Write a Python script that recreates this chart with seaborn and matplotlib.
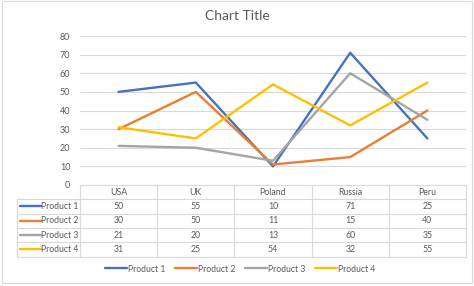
import matplotlib
matplotlib.use("Agg")
import matplotlib.pyplot as plt
from matplotlib.lines import Line2D
from matplotlib.patches import Rectangle
import seaborn as sns
import pandas as pd

countries = ["USA", "UK", "Poland", "Russia", "Peru"]
series_names = ["Product 1", "Product 2", "Product 3", "Product 4"]
product1 = [50, 55, 10, 71, 25]
product2 = [30, 50, 11, 15, 40]
product3 = [21, 20, 13, 60, 35]
product4 = [31, 25, 54, 32, 55]
y_ticks = [0, 10, 20, 30, 40, 50, 60, 70, 80]
title = "Chart Title"

colors = ["#4472C4", "#ED7D31", "#A5A5A5", "#FFC000"]
txt_col = "#595959"
grid_col = "#D9D9D9"

sns.set_theme(style="white")
plt.rcParams["font.family"] = ["Lato", "DejaVu Sans"]

values = [product1, product2, product3, product4]
rows = []
for name, vals in zip(series_names, values):
    for c, v in zip(countries, vals):
        rows.append({"Country": c, "Product": name, "Value": v})
df = pd.DataFrame(rows)

W, H = 474, 286
fig = plt.figure(figsize=(W / 100, H / 100), dpi=100)
fig.patch.set_facecolor("white")

def fx(px):
    return px / W

def fy(py):
    return 1 - py / H

ax = fig.add_axes([fx(80), fy(185), fx(466) - fx(80), fy(36) - fy(185)])
sns.lineplot(data=df, x="Country", y="Value", hue="Product", palette=colors,
             linewidth=1.7, ax=ax, legend=False, sort=False)
ax.set_xlim(-0.5, len(countries) - 0.5)
ax.set_ylim(0, 80)
ax.set_yticks(y_ticks)
ax.set_yticklabels([str(t) for t in y_ticks], fontsize=6.5, color=txt_col)
ax.tick_params(axis="y", length=0, pad=7)
ax.set_xticks([])
ax.set_xlabel("")
ax.set_ylabel("")
for s in ax.spines.values():
    s.set_visible(False)
for t in y_ticks[1:]:
    ax.axhline(t, color=grid_col, linewidth=0.8, zorder=0)

fig.text(0.5, fy(16), title, ha="center", va="center", fontsize=10, color=txt_col)

# data table
n = len(countries)
left_px = 17
col_w = (466 - 80) / n
lab_w = (80 - left_px) / col_w
tab = fig.add_axes([fx(left_px), fy(256.5), fx(466) - fx(left_px), fy(185) - fy(256.5)])
tab.set_xlim(-0.5 - lab_w, n - 0.5)
tab.set_ylim(len(series_names) + 1, 0)
tab.axis("off")
lw = 0.8
tab.plot([-0.5, n - 0.5], [0, 0], color=grid_col, lw=lw, clip_on=False)
for r in range(1, len(series_names) + 2):
    tab.plot([-0.5 - lab_w, n - 0.5], [r, r], color=grid_col, lw=lw, clip_on=False)
for c in range(n + 1):
    tab.plot([c - 0.5, c - 0.5], [0, len(series_names) + 1], color=grid_col, lw=lw, clip_on=False)
tab.plot([-0.5 - lab_w] * 2, [1, len(series_names) + 1], color=grid_col, lw=lw, clip_on=False)
for i, c in enumerate(countries):
    tab.text(i, 0.5, c, ha="center", va="center", fontsize=6.3, color=txt_col)
for r, (name, vals, col) in enumerate(zip(series_names, values, colors)):
    yy = r + 1.5
    tab.plot([-0.5 - lab_w + 0.04, -0.5 - lab_w + 0.31], [yy, yy], color=col, lw=1.7, clip_on=False)
    tab.text(-0.525, yy, name, ha="right", va="center", fontsize=6.2, color=txt_col)
    for i, v in enumerate(vals):
        tab.text(i, yy, str(v), ha="center", va="center", fontsize=6.3, color=txt_col)

handles = [Line2D([0], [0], color=c, lw=1.7) for c in colors]
fig.legend(handles, series_names, loc="center", bbox_to_anchor=(fx(240), fy(269)),
           ncol=4, frameon=False, fontsize=6.2, handlelength=2.6, handletextpad=0.1,
           columnspacing=1.1, labelcolor=txt_col)

fig.patches.append(Rectangle((fx(2), fy(283)), fx(472) - fx(2), fy(0.5) - fy(283),
                             transform=fig.transFigure, fill=False,
                             edgecolor=grid_col, linewidth=0.8))

fig.savefig("out.png", dpi=100)
